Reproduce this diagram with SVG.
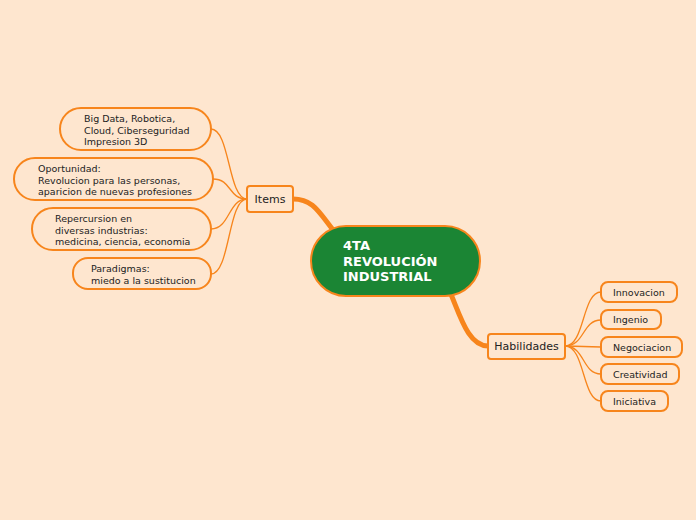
<svg xmlns="http://www.w3.org/2000/svg" width="696" height="520" viewBox="0 0 696 520">
<style>
.leaf{fill:#fee6cf;stroke:#f7851c;stroke-width:2}
.t{font-family:"DejaVu Sans",Verdana,sans-serif;font-size:9.5px;fill:#222}
.m{font-family:"DejaVu Sans",Verdana,sans-serif;font-size:11px;fill:#222}
.c{fill:none;stroke:#f7851c;stroke-width:1.3}
</style>
<rect width="696" height="520" fill="#fee6cf"/>
<g id="connectors">
<path d="M293,199 C315,199 320,215 338,236" fill="none" stroke="#f7851c" stroke-width="5"/>
<path d="M450,292 C460,315 468,346 488,346" fill="none" stroke="#f7851c" stroke-width="5"/>
<path class="c" d="M247,199 C228,199 230,129 211,129"/>
<path class="c" d="M247,199 C228,199 232,179 213,179"/>
<path class="c" d="M247,199 C228,199 230,229 211,229"/>
<path class="c" d="M247,199 C228,199 230,274 211,274"/>
<path class="c" d="M565,346 C585,346 582,292 601,292"/>
<path class="c" d="M565,346 C585,346 582,320 601,320"/>
<path class="c" d="M565,346 C585,346 582,347 601,347"/>
<path class="c" d="M565,346 C585,346 582,374 601,374"/>
<path class="c" d="M565,346 C585,346 582,401 601,401"/>
</g>
<g id="central"><rect x="311" y="226" width="169" height="70" rx="35" fill="#1b8534" stroke="#f7851c" stroke-width="2"/>
<text font-family="'DejaVu Sans',Verdana,sans-serif" font-size="13" font-weight="bold" fill="#fff"><tspan x="343" y="250">4TA</tspan><tspan x="343" y="266">REVOLUCIÓN</tspan><tspan x="343" y="281">INDUSTRIAL</tspan></text></g>
<g id="items"><rect class="leaf" x="247" y="186" width="46" height="26" rx="3"/><text class="m" x="270" y="203" text-anchor="middle">Items</text></g>
<g id="habilidades"><rect class="leaf" x="488" y="334" width="77" height="25" rx="3"/><text class="m" x="526.5" y="350" text-anchor="middle">Habilidades</text></g>
<g id="l1"><rect class="leaf" x="60" y="108" width="151" height="42" rx="21"/><text class="t"><tspan x="84" y="122">Big Data, Robotica,</tspan><tspan x="84" y="133.5">Cloud, Ciberseguridad</tspan><tspan x="84" y="145">Impresion 3D</tspan></text></g>
<g id="l2"><rect class="leaf" x="14" y="158" width="199" height="42" rx="21"/><text class="t"><tspan x="38" y="172">Oportunidad:</tspan><tspan x="38" y="183.5">Revolucion para las personas,</tspan><tspan x="38" y="195">aparicion de nuevas profesiones</tspan></text></g>
<g id="l3"><rect class="leaf" x="32" y="208" width="179" height="42" rx="21"/><text class="t"><tspan x="55" y="222">Repercursion en</tspan><tspan x="55" y="233.5">diversas industrias:</tspan><tspan x="55" y="245">medicina, ciencia, economia</tspan></text></g>
<g id="l4"><rect class="leaf" x="73" y="258" width="138" height="31" rx="15"/><text class="t"><tspan x="91" y="272">Paradigmas:</tspan><tspan x="91" y="284">miedo a la sustitucion</tspan></text></g>
<g id="r1"><rect class="leaf" x="601" y="282" width="76" height="20" rx="7"/><text class="t" x="613" y="296">Innovacion</text></g>
<g id="r2"><rect class="leaf" x="601" y="310" width="60" height="19" rx="7"/><text class="t" x="613" y="323">Ingenio</text></g>
<g id="r3"><rect class="leaf" x="601" y="337" width="81" height="20" rx="7"/><text class="t" x="613" y="351">Negociacion</text></g>
<g id="r4"><rect class="leaf" x="601" y="364" width="78" height="20" rx="7"/><text class="t" x="613" y="378">Creatividad</text></g>
<g id="r5"><rect class="leaf" x="601" y="391" width="67" height="20" rx="7"/><text class="t" x="613" y="405">Iniciativa</text></g>
</svg>
